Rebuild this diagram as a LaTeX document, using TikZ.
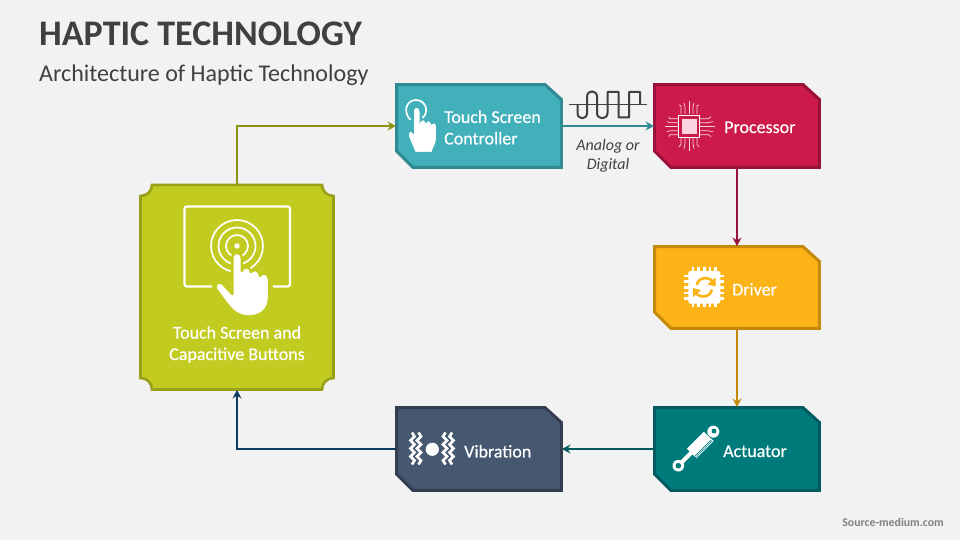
\documentclass[tikz,border=0pt]{standalone}
\usepackage{fontspec}
\setmainfont{Carlito}
\newfontfamily\labelfont[FakeBold=0.35]{Carlito}
\usetikzlibrary{arrows.meta}
\definecolor{bgc}{HTML}{F2F2F2}
\definecolor{txtc}{HTML}{404040}
\definecolor{tealf}{HTML}{41B0BA}\definecolor{tealb}{HTML}{2F8A93}
\definecolor{redf}{HTML}{CC1B4B}\definecolor{redb}{HTML}{99123A}
\definecolor{ambf}{HTML}{FBB317}\definecolor{ambb}{HTML}{C48A0A}
\definecolor{dtealf}{HTML}{007B7B}\definecolor{dtealb}{HTML}{005A60}
\definecolor{slatef}{HTML}{465870}\definecolor{slateb}{HTML}{333F50}
\definecolor{olivf}{HTML}{C2CB20}\definecolor{olivb}{HTML}{98A01A}
\definecolor{olivl}{HTML}{8C9512}
\definecolor{navyc}{HTML}{0E3A5F}
\definecolor{pinkc}{HTML}{F9D5DF}
\tikzset{
  anchorbox/.style={inner sep=0pt,outer sep=0pt,draw=none,fill=none},
  boxlabel/.style={text=white,anchor=west,align=left,inner sep=0pt,font=\labelfont\fontsize{18}{21.5}\selectfont},
  link/.style={line width=1.6pt,-{Stealth[length=8.5pt,width=9pt,inset=3pt]}},
  icon/.style={fill=white,draw=none},
  trace/.style={draw=pinkc,line width=0.7pt,fill=none},
}
% name, x1, y1, x2, y2, fill, border
\newcommand{\snipbox}[7]{%
  \path[fill=#6,draw=#7,line width=3pt,line join=miter]
    ({#2+0.6},{#3+0.6}) -- ({#4-17},{#3+0.6}) -- ({#4-0.6},{#3+15.5}) -- ({#4-0.6},{#5-0.6})
    -- ({#2+17},{#5-0.6}) -- ({#2+0.6},{#5-17}) -- cycle;
  \pgfmathsetmacro{\bw}{#4-#2}\pgfmathsetmacro{\bh}{#5-#3}
  \node[anchorbox,minimum width=\bw pt,minimum height=\bh pt] (#1) at ({(#2+#4)/2},{(#3+#5)/2}) {};
}
\begin{document}
\begin{tikzpicture}[x=1pt,y=-1pt]
\useasboundingbox (0,0) rectangle (960,540);
\fill[bgc] (0,0) rectangle (960,540);
% titles
\node[anchor=base west,inner sep=0pt,text=txtc,font=\fontsize{36}{40}\selectfont\bfseries] (title) at (39,46) {HAPTIC TECHNOLOGY};
\node[anchor=base west,inner sep=0pt,text=txtc,font=\fontsize{24}{28}\selectfont] (sub) at (39,82) {Architecture of Haptic Technology};
\node[anchor=base east,inner sep=0pt,text=gray,font=\fontsize{11.8}{13}\selectfont\bfseries] (src) at (944,526) {Source-medium.com};
% big plaque
\path[fill=olivf,draw=olivb,line width=2.6pt]
  (152,184.8) -- (322,184.8) .. controls (322,191) and (327,196) .. (333.5,196)
  -- (333.5,378) .. controls (327,378) and (322,383) .. (322,389.5)
  -- (152,389.5) .. controls (152,383) and (147,378) .. (140.5,378)
  -- (140.5,196) .. controls (147,196) and (152,191) .. (152,184.8) -- cycle;
\node[anchorbox,minimum width=194pt,minimum height=206pt] (big) at (237,287) {};
% snipped boxes
\snipbox{tsc}{396}{84}{562}{168}{tealf}{tealb}
\snipbox{proc}{654}{84}{820}{168}{redf}{redb}
\snipbox{drv}{654}{246}{820}{329}{ambf}{ambb}
\snipbox{act}{654}{407}{820}{491}{dtealf}{dtealb}
\snipbox{vib}{396}{407}{562}{491}{slatef}{slateb}
% connectors
\draw[link,draw=olivl] (big.north) |- (tsc.west);
\draw[link,draw=tealb] (tsc.east) -- (proc.west);
\draw[link,draw=redb] (proc.south) -- (drv.north);
\draw[link,draw=ambb] (drv.south) -- (act.north);
\draw[link,draw=dtealb] (act.west) -- (vib.east);
\draw[link,draw=navyc] (vib.west) -| (big.south);
% big icon: screen, rings, hand
\draw[draw=white,line width=2.3pt,rounded corners=2.5pt,fill=none] (212,286.5) -- (184.5,286.5) -- (184.5,206.5) -- (290,206.5) -- (290,286.5) -- (273,286.5);
\fill[white] (237,246) circle[radius=2.7pt];
\foreach \r in {11,18.5,26}{\draw[white,line width=1.7pt] (237,246) circle[radius=\r pt];}
\path[icon,draw=olivf,line width=2.4pt,line join=round]
  (232.3,258) .. controls (232.3,251) and (241.7,251) .. (241.7,258) -- (241.7,271)
  .. controls (243,266) and (250,266) .. (251,272)
  .. controls (253,269) and (259,269) .. (260,276)
  .. controls (262,272) and (268,272.5) .. (269,279)
  -- (269,298) .. controls (269,310) and (260,316.5) .. (249,316.5)
  .. controls (238,316.5) and (232,311) .. (224,300)
  -- (216.5,290) .. controls (213.5,285) and (218,281) .. (222,283)
  -- (232.3,294) -- cycle;
\node[text=white,align=center,inner sep=0pt,font=\labelfont\fontsize{18}{21.5}\selectfont] (bigtxt) at (237,344.5) {Touch Screen and\\Capacitive Buttons};
% TSC icon
\draw[white,line width=1.7pt] (410.5,120) .. controls (402,111) and (407,100) .. (416,100) .. controls (425,100) and (430,111) .. (422.5,118);
\path[icon,draw=tealf,line width=1pt]
  (413.3,111) .. controls (413.3,106) and (420,106) .. (420,111) -- (420,122)
  .. controls (421,119) and (425,119) .. (426,122.5)
  .. controls (427,120) and (431,120) .. (431.5,124)
  .. controls (432.5,122) and (436,122) .. (436.5,126)
  -- (436.5,139) .. controls (436,145) and (433,148) .. (432,152.5)
  -- (415,152.5) .. controls (413,146) and (410,142) .. (408.5,136)
  .. controls (407.5,131) and (411,130) .. (413.3,133) -- cycle;
\node[boxlabel] (tsctxt) at (444,127.5) {Touch Screen\\Controller};
% waveform
\draw[txtc,line width=1.2pt] (569,104.3) -- (647,104.3);
\draw[txtc,line width=2pt,line join=round] (577.5,104.3) -- (577.5,113) .. controls (577.5,120) and (587,120) .. (587,113) -- (587,97) .. controls (587,89.5) and (597,89.5) .. (597,97) -- (597,113) .. controls (597,120) and (607.5,120) .. (607.5,113) -- (607.5,92) -- (618.5,92) -- (618.5,117.5) -- (629,117.5) -- (629,92) -- (640,92) -- (640,104.3);
\node[text=txtc,align=center,inner sep=0pt,font=\fontsize{16}{19}\selectfont\itshape] (adtxt) at (608,155.5) {Analog or\\Digital};
% processor icon
\foreach \d in {-8,-4,0,4,8}{
  \draw[trace] ({689+\d},114) -- ({689+\d},{108-abs(\d)*0.3}) -- ({689+\d*1.25},{101+abs(\d)*0.5});
  \draw[trace] ({689+\d},136) -- ({689+\d},{142+abs(\d)*0.3}) -- ({689+\d*1.25},{151-abs(\d)*0.5});
  \draw[trace] (678,{126.7+\d}) -- ({672-abs(\d)*0.3},{126.7+\d}) -- ({665+abs(\d)*0.5},{126.7+\d*1.25});
  \draw[trace] (700,{126.7+\d}) -- ({706+abs(\d)*0.3},{126.7+\d}) -- ({715-abs(\d)*0.5},{126.7+\d*1.25});
}
\draw[white,line width=1.2pt,fill=redf] (678.3,115.8) rectangle (699.7,137.2);
\fill[pinkc] (681.5,119) rectangle (696.5,134);
\node[boxlabel] (proctxt) at (724,127.3) {Processor};
% driver icon
\foreach \d in {-11.2,-5.6,0,5.6,11.2}{
  \draw[white,line width=2.6pt] ({704.3+\d},267.3) -- ({704.3+\d},307.3);
  \draw[white,line width=2.6pt] (684.3,{287.3+\d}) -- (724.3,{287.3+\d});
}
\fill[white,rounded corners=1.5pt] (688.3,271) rectangle (720.3,303.5);
\draw[ambf,line width=2.6pt] (696.8,285) .. controls (698,277) and (709,276) .. (713,282);
\fill[ambf] (715.5,277.5) -- (715.5,286.5) -- (707.5,284.5) -- cycle;
\draw[ambf,line width=2.6pt] (711.8,289.6) .. controls (710.6,297.6) and (699.6,298.6) .. (695.6,292.6);
\fill[ambf] (693.1,297.1) -- (693.1,288.1) -- (701.1,290.1) -- cycle;
\node[boxlabel] (drvtxt) at (732,289.3) {Driver};
% actuator icon
\draw[white,line width=4pt] (678.3,465.7) -- (693,451);
\draw[white,line width=12pt] (691,453) -- (708,436);
\draw[dtealf,line width=0.7pt] (694.5,456.5) -- (711.5,439.5);
\draw[white,line width=0.7pt] (696,458) -- (713,441) -- (710.5,438.5);
\fill[white] (713.3,431.7) circle[radius=6pt];
\fill[dtealf] (714,431) circle[radius=2.4pt];
\fill[white] (678.3,465.7) circle[radius=5.8pt];
\fill[dtealf] (678.3,465.7) circle[radius=2.8pt];
\node[boxlabel] (acttxt) at (723,451.3) {Actuator};
% vibration icon
\fill[white] (432.3,449.3) circle[radius=6.6pt];
\foreach \x/\s in {410.5/1,417/1,447/-1,453.5/-1}{
  \draw[white,line width=2.6pt,line join=miter] ({\x+1.5*\s},432.5) -- ({\x+4*\s},436.5) -- (\x,440.5) -- ({\x+4*\s},444.5) -- (\x,448.5) -- ({\x+4*\s},452.5) -- (\x,456.5) -- ({\x+4*\s},460.5) -- ({\x+1.5*\s},464.5);
}
\node[boxlabel] (vibtxt) at (464,451.3) {Vibration};
\end{tikzpicture}
\end{document}
